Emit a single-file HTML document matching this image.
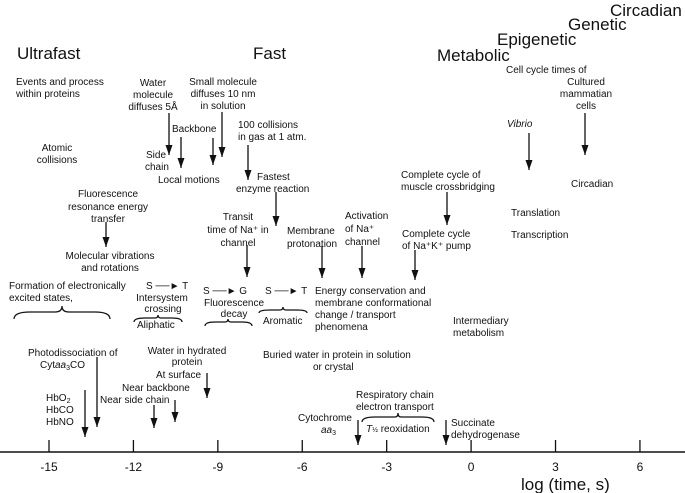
<!DOCTYPE html>
<html><head><meta charset="utf-8"><style>
body{margin:0;background:#fff}
svg{display:block;font-family:"Liberation Sans",sans-serif;}
text{font-size:10px;fill:#111}
.big{font-size:17px}
</style></head><body>
<svg id="chart" width="685" height="493" viewBox="0 0 685 493">
<defs><marker id="ah" markerWidth="7" markerHeight="10" refX="3.5" refY="10" orient="0" markerUnits="userSpaceOnUse"><path d="M0,0 L7,0 L3.5,10 Z" fill="#111"/></marker></defs>
<g>
<text class="big" x="17" y="59">Ultrafast</text>
<text class="big" x="253" y="59">Fast</text>
<text class="big" x="437" y="61">Metabolic</text>
<text class="big" x="497" y="45">Epigenetic</text>
<text class="big" x="568" y="30">Genetic</text>
<text class="big" x="610" y="16">Circadian</text>
</g>
<g id="labels">
<text x="16" y="85">Events and process</text><text x="16" y="97">within proteins</text>
<text x="57" y="151" text-anchor="middle">Atomic</text><text x="57" y="163" text-anchor="middle">collisions</text>
<text x="153" y="86" text-anchor="middle">Water</text><text x="153" y="98" text-anchor="middle">molecule</text><text x="153" y="110" text-anchor="middle">diffuses 5Å</text>
<text x="223" y="85" text-anchor="middle">Small molecule</text><text x="223" y="97" text-anchor="middle">diffuses 10 nm</text><text x="223" y="109" text-anchor="middle">in solution</text>
<text x="172" y="132">Backbone</text>
<text x="146" y="158">Side</text><text x="145" y="170">chain</text>
<text x="158" y="183">Local motions</text>
<text x="238" y="128">100 collisions</text><text x="238" y="140">in gas at 1 atm.</text>
<text x="257" y="180">Fastest</text><text x="236" y="192">enzyme reaction</text>
<text x="108" y="197" text-anchor="middle">Fluorescence</text><text x="108" y="210" text-anchor="middle">resonance energy</text><text x="108" y="222" text-anchor="middle">transfer</text>
<text x="110" y="259" text-anchor="middle">Molecular vibrations</text><text x="110" y="271" text-anchor="middle">and rotations</text>
<text x="238" y="220" text-anchor="middle">Transit</text><text x="238" y="233" text-anchor="middle">time of Na⁺ in</text><text x="238" y="246" text-anchor="middle">channel</text>
<text x="287" y="234">Membrane</text><text x="287" y="247">protonation</text>
<text x="345" y="219">Activation</text><text x="345" y="232">of Na⁺</text><text x="345" y="245">channel</text>
<text x="401" y="178">Complete cycle of</text><text x="401" y="190">muscle crossbridging</text>
<text x="402" y="237">Complete cycle</text><text x="402" y="249">of Na⁺K⁺ pump</text>
<text x="506" y="73">Cell cycle times of</text>
<text x="586" y="85" text-anchor="middle">Cultured</text><text x="586" y="97" text-anchor="middle">mammatian</text><text x="586" y="109" text-anchor="middle">cells</text>
<text x="507" y="127" font-style="italic">Vibrio</text>
<text x="571" y="187">Circadian</text>
<text x="511" y="216">Translation</text>
<text x="511" y="238">Transcription</text>
<text x="9" y="289">Formation of electronically</text><text x="9" y="301">excited states,</text>
<text x="146" y="289">S ──► T</text><text x="162" y="301" text-anchor="middle">Intersystem</text><text x="163" y="312" text-anchor="middle">crossing</text>
<text x="137" y="328">Aliphatic</text>
<text x="203" y="294">S ──► G</text><text x="265" y="294">S ──► T</text>
<text x="234" y="306" text-anchor="middle">Fluorescence</text><text x="234" y="317" text-anchor="middle">decay</text>
<text x="263" y="324">Aromatic</text>
<text x="315" y="294">Energy conservation and</text><text x="315" y="306">membrane conformational</text><text x="315" y="318">change / transport</text><text x="315" y="330">phenomena</text>
<text x="453" y="324">Intermediary</text><text x="453" y="336">metabolism</text>
<text x="28" y="356">Photodissociation of</text><text x="40" y="368">Cyt<tspan font-style="italic">aa</tspan><tspan font-size="7" dy="2">3</tspan><tspan dy="-2">CO</tspan></text>
<text x="46" y="401">HbO<tspan font-size="7" dy="2">2</tspan></text><text x="46" y="413">HbCO</text><text x="46" y="425">HbNO</text>
<text x="187" y="354" text-anchor="middle">Water in hydrated</text><text x="187" y="365" text-anchor="middle">protein</text>
<text x="156" y="378">At surface</text>
<text x="122" y="391">Near backbone</text>
<text x="100" y="403">Near side chain</text>
<text x="263" y="358">Buried water in protein in solution</text><text x="313" y="370">or crystal</text>
<text x="298" y="421">Cytochrome</text><text x="321" y="433"><tspan font-style="italic">aa</tspan><tspan font-size="7" dy="2">3</tspan></text>
<text x="356" y="398">Respiratory chain</text><text x="356" y="410">electron transport</text>
<text x="366" y="432"><tspan font-style="italic">T</tspan><tspan font-size="7">½</tspan> reoxidation</text>
<text x="451" y="426">Succinate</text><text x="451" y="438">dehydrogenase</text>
</g>
<g id="braces" fill="none" stroke="#111" stroke-width="1.3">
<path d="M14,319 Q14,312 30,312 L55,312 Q62,312 62,306 Q62,312 69,312 L95,312 Q110,312 110,319"/>
<path d="M134,322 Q134,318 145,318 L155,318 Q158,318 158,315 Q158,318 161,318 L172,318 Q182,318 182,322"/>
<path d="M205,326 Q205,322 215,322 L225,322 Q228,322 228,319 Q228,322 231,322 L242,322 Q252,322 252,326"/>
<path d="M259,313 Q259,310 270,310 L280,310 Q283,310 283,307 Q283,310 286,310 L297,310 Q307,310 307,313"/>
<path d="M362,422 Q362,417 375,417 L395,417 Q398,417 398,413 Q398,417 401,417 L422,417 Q434,417 434,422"/>
</g>
<g id="arrows" stroke="#111" stroke-width="1.3"></g>
<g id="axis"></g>
<text class="big" x="521" y="490">log (time, s)</text>
</svg>
<script>
const tickValues = [-15, -12, -9, -6, -3, 0, 3, 6];
const tickLabels = ["-15", "-12", "-9", "-6", "-3", "0", "3", "6"];
const xScale = v => 49 + (v + 15) * 28.14;
const NS = "http://www.w3.org/2000/svg";
const axis = document.getElementById('axis');
const line = document.createElementNS(NS, 'line');


line.setAttribute('x1', 0); line.setAttribute('x2', 685);
line.setAttribute('y1', 452); line.setAttribute('y2', 452);
line.setAttribute('stroke', '#111'); line.setAttribute('stroke-width', 1.6);
axis.appendChild(line);
tickValues.forEach((v, i) => {
  const x = xScale(v);
  const t = document.createElementNS(NS, 'line');
  
  
  t.setAttribute('x1', x); t.setAttribute('x2', x);
  t.setAttribute('y1', 440); t.setAttribute('y2', 452);
  t.setAttribute('stroke', '#111'); t.setAttribute('stroke-width', 1.3);
  axis.appendChild(t);
  const l = document.createElementNS(NS, 'text');
  
  
  l.setAttribute('x', x); l.setAttribute('y', 471);
  l.setAttribute('text-anchor', 'middle');
  l.setAttribute('style', 'font-size:12px');
  l.textContent = tickLabels[i];
  axis.appendChild(l);
});
const arrows = [[169,113,155],[181,137,168],[213,138,165],[222,112,157],[248,145,180],[276,192,226],[106,222,247],[247,245,277],[322,246,278],[362,246,278],[447,192,225],[415,250,280],[585,113,155],[529,133,170],[85,390,437],[97,357,427],[207,373,398],[175,400,422],[154,405,428],[358,420,445],[446,420,445]];
const ag = document.getElementById('arrows');
arrows.forEach(a => {
  const p = document.createElementNS(NS, 'line');
  
  
  p.setAttribute('x1', a[0]); p.setAttribute('x2', a[0]);
  p.setAttribute('y1', a[1]); p.setAttribute('y2', a[2]);
  p.setAttribute('marker-end', 'url(#ah)');
  ag.appendChild(p);
});
</script>
</body></html>
